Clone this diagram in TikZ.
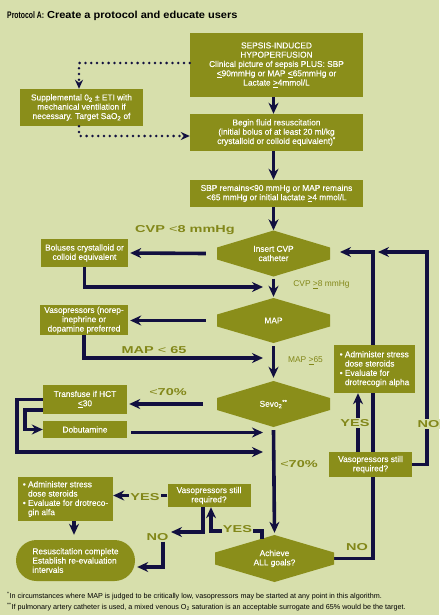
\documentclass[tikz,border=0pt]{standalone}
\usepackage{fontspec}
\setmainfont{Liberation Sans}
\newfontfamily\boxf[FakeStretch=0.98,FakeBold=0.25]{Liberation Sans}
\newfontfamily\smallf{Liberation Sans}
\newfontfamily\widef[FakeStretch=1.45]{Liberation Sans}
\newfontfamily\condf[FakeStretch=0.72]{Liberation Sans}
\newfontfamily\titlef[FakeStretch=1.08]{Liberation Sans}
\usetikzlibrary{arrows.meta}
\definecolor{bgc}{RGB}{215,223,172}
\definecolor{boxc}{RGB}{138,142,26}
\definecolor{labc}{RGB}{130,135,25}
\definecolor{navy}{RGB}{18,16,64}
\pgfdeclarelayer{back}
\pgfdeclarelayer{mid}
\pgfsetlayers{back,mid,main}
\newcommand\hexnode[6]{%
  \fill[boxc] (#2,#3-#5/2) -- (#2+#4/2,#3-6) -- (#2+#4/2,#3+6) -- (#2,#3+#5/2) -- (#2-#4/2,#3+6) -- (#2-#4/2,#3-6) -- cycle;
  \node[box,fill=none,minimum width=#4,minimum height=#5] (#1) at (#2,#3) {#6};}
\tikzset{
  box/.style={fill=boxc, text=white, font=\boxf\fontsize{8.5}{9.3}\selectfont, align=center, inner sep=0pt},
  arr/.style={draw=navy, line width=3.6pt, -{Stealth[length=11pt,width=10pt]}},
  big/.style={text=labc, font=\widef\bfseries\fontsize{10}{12}\selectfont, inner sep=1pt},
  small/.style={text=labc, font=\smallf\fontsize{8.4}{9}\selectfont, inner sep=0pt},
  dotarr/.style={draw=navy, line width=2.8pt, line cap=round, dash pattern=on 0pt off 5.8pt, -{Stealth[length=9pt,width=8pt]}},
  foot/.style={anchor=west, inner sep=0pt, font=\smallf\fontsize{7.2}{8}\selectfont},
}
\begin{document}
\begin{tikzpicture}[x=1pt,y=-1pt]
\useasboundingbox (0,0) rectangle (439,615);
\begin{pgfonlayer}{back}
\fill[bgc] (0,0) rectangle (439,615);
\end{pgfonlayer}

\node[anchor=west, inner sep=0pt, font=\titlef\bfseries\fontsize{10.2}{12}\selectfont] (title) at (7,16) {{\condf\bfseries\fontsize{9.5}{11}\selectfont Protocol A:} Create a protocol and educate users};

\node[box, minimum width=173, minimum height=64] (sepsis) at (276.5,65) {SEPSIS-INDUCED\\HYPOPERFUSION\\Clinical picture of sepsis PLUS: SBP\\\underline{<}90mmHg or MAP \underline{<}65mmHg or\\Lactate \underline{>}4mmol/L};
\node[box, minimum width=123, minimum height=37] (supp) at (81.5,107.5) {Supplemental 0\textsubscript{2} ± ETI with\\mechanical ventilation if\\necessary. Target SaO\textsubscript{2} of};
\node[box, minimum width=173, minimum height=37] (fluid) at (276.5,132.5) {Begin fluid resuscitation\\(initial bolus of at least 20 ml/kg\\crystalloid or colloid equivalent)\textsuperscript{*}};
\node[box, minimum width=173, minimum height=27] (sbp) at (276.5,193.5) {SBP remains<90 mmHg or MAP remains\\<65 mmHg or initial lactate \underline{>}4 mmol/L};
\node[box, minimum width=87, minimum height=28] (bolus) at (84.5,253) {Boluses crystalloid or\\colloid equivalent};
\node[box, minimum width=88, minimum height=30] (vaso) at (84,320) {Vasopressors (norep-\\inephrine or\\dopamine preferred};
\node[box, minimum width=84, minimum height=29] (transf) at (85,399.5) {Transfuse if HCT\\\underline{<}30};
\node[box, minimum width=84, minimum height=17] (dobu) at (85,429.5) {Dobutamine};
\node[box, minimum width=81, minimum height=48, align=left] (adminR) at (374.5,369) {• Administer stress\\\phantom{• }dose steroids\\• Evaluate for\\\phantom{• }drotrecogin alpha};
\node[box, minimum width=83, minimum height=25] (vsrR) at (370.5,464.5) {Vasopressors still\\required?};
\node[box, minimum width=95, minimum height=44, align=left] (adminL) at (65.5,499) {• Administer stress\\\phantom{• }dose steroids\\• Evaluate for drotreco-\\\phantom{• }gin alfa};
\node[box, minimum width=83, minimum height=23] (vsrL) at (209,495.5) {Vasopressors still\\required?};
\node[box, minimum width=119, minimum height=41, rounded corners=20.5pt, align=left] (resus) at (75.5,560.5) {Resuscitation complete\\Establish re-evaluation\\intervals};

\hexnode{cvp}{273.5}{253.5}{113}{46}{Insert CVP\\catheter}
\hexnode{map}{273.5}{320.5}{113}{45}{MAP}
\hexnode{sevo}{273.5}{404}{113}{46}{Sevo\textsubscript{2}\textsuperscript{**}}
\hexnode{ach}{274.5}{558.5}{119}{47}{Achieve\\ALL goals?}

% coordinates
\coordinate (j1) at (263,287);
\coordinate (j2) at (263,358);
\coordinate (j3) at (17,452);
\coordinate (j4) at (263,452);
\coordinate (c5) at (25,0);
\coordinate (k1) at (373,252);
\coordinate (k0) at (340,252);
\coordinate (k2) at (427,252);
\coordinate (k3) at (378,252);
\coordinate (yx) at (358,0);
\coordinate (n1) at (171,532);
\coordinate (n3) at (211,531);
\coordinate (a1) at (262,539);
\coordinate (rx) at (74,0);

% main spine
\draw[arr] (sepsis.south -| cvp) -- (fluid.north -| cvp);
\draw[arr] (fluid.south -| cvp) -- (sbp.north -| cvp);
\draw[arr] (sbp.south -| cvp) -- (cvp.north);
\draw[arr] ([yshift=-2pt]cvp.south) -- ([yshift=1pt]map.north);
\draw[arr] ([yshift=-3pt]map.south) -- ([yshift=3pt]sevo.north);
\draw[arr] ([yshift=-3pt]sevo.south) -- ([yshift=2pt]ach.north);

% left branches
\draw[arr] ([xshift=-11pt]cvp.west) -- ([xshift=2pt]bolus.east);
\draw[arr] (bolus.south) |- (j1);
\draw[arr] ([xshift=-11pt]map.west) -- ([xshift=2pt]map.west -| vaso.east);
\draw[arr] (vaso.south) |- (j2);
\draw[arr] ([xshift=-14pt]sevo.west) -- ([xshift=2pt]sevo.west -| transf.east);
\draw[arr] (transf.west) -| (j3) -- (j4);
\draw[arr] ([yshift=-10.5pt]transf.west) -| (dobu.west -| c5) -- (dobu.west);
\draw[arr] ([xshift=4pt,yshift=-3pt]dobu.east) -- ([yshift=-3pt]dobu.east -| j1);

% right loop (behind boxes)
\begin{pgfonlayer}{mid}
\draw[arr] (ach.east) -| (k1) -- (k0);
\end{pgfonlayer}
\draw[arr] (vsrR.east) -| (k2) -- (k3);
\draw[arr] (vsrR.north -| yx) -- (adminR.south -| yx);

% bottom left
\draw[arr] (vsrL.west) -- (vsrL.west -| adminL.east);
\draw[arr] ([xshift=-6pt]vsrL.south) |- (n1);
\node[big] (noL) at (157.5,537) {NO};
\draw[arr] ([xshift=5.5pt]noL.south) |- ([xshift=2pt,yshift=-6.5pt]resus.east);
\draw[arr] (a1) |- (n3) -- (n3 |- vsrL.south);
\draw[arr, shorten >=5pt] (adminL.south -| rx) -- (resus.north -| rx);

% dotted
\draw[dotarr] ([yshift=2pt]sepsis.west) -| ([xshift=-2.5pt]supp.north);
\draw[dotarr] ([xshift=-2.5pt]supp.south) |- ([yshift=-3.5pt]fluid.west);

% labels
\node[big] (l1) at (185,230) {CVP {\mdseries<}8 mmHg};
\node[big] (l2) at (154,350) {MAP {\mdseries<} 65};
\node[big] (l3) at (168,392) {{\mdseries<}70\%};
\node[big] (l4) at (299,464) {{\mdseries<}70\%};
\node[small] (l5) at (321.5,285) {CVP \underline{>}8 mmHg};
\node[small] (l6) at (305.5,361) {MAP \underline{>}65};
\node[big, fill=bgc] (yR) at (355,423) {YES};
\node[big, fill=bgc] (noR) at (428.5,424) {NO};
\node[big] (noA) at (357,547) {NO};
\node[big, fill=bgc] (yA) at (237.5,529) {YES};
\node[big, fill=bgc] (yL) at (145,497) {YES};

% footnotes
\node[foot] (fn1) at (7,596) {\textsuperscript{*}In circumstances where MAP is judged to be critically low, vasopressors may be started at any point in this algorithm.};
\node[foot] (fn2) at (7,607) {\textsuperscript{**}If pulmonary artery catheter is used, a mixed venous O\textsubscript{2} saturation is an acceptable surrogate and 65\% would be the target.};
\end{tikzpicture}
\end{document}
